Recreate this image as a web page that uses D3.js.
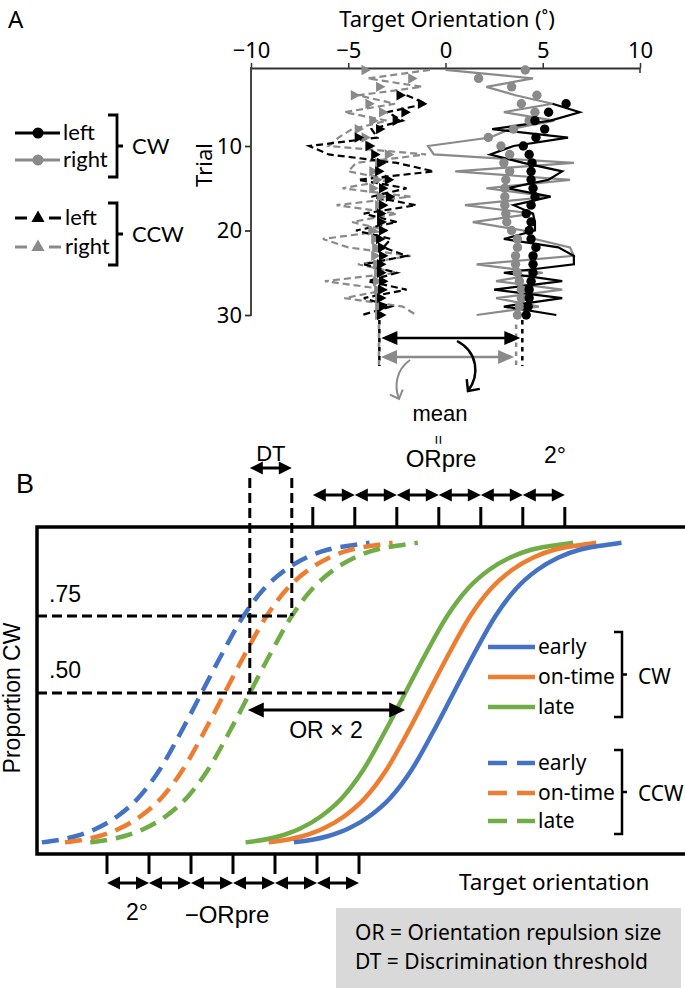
<!DOCTYPE html>
<html><head><meta charset="utf-8">
<script src="https://cdn.jsdelivr.net/npm/d3@7"></script>
<style>body{margin:0;background:#fff}svg{display:block}</style>
</head><body>
<svg id="c" width="685" height="988"></svg>
<script>
// ================= Panel A data =================
const trialsAll = d3.range(1, 31);
const xTicksA = [-10, -5, 0, 5, 10];
const yTicksA = [10, 20, 30];
// CW, right (gray solid line + gray dots), trials 1..30
const cwRightResp = [0.0, 4.5, 2.1, 3.6, 5.5, 3.0, 5.6, 3.3, 2.3, -0.9, -0.6, 6.6, 0.5, 6.4, 2.1, 5.4, 1.0, 4.5, 1.4, 4.0, 4.6, 6.4, 6.6, 1.6, 5.0, 2.6, 6.0, 2.6, 4.8, 1.6];
const cwRightMean = [4.1, 1.7, 3.4, 4.7, 3.9, 4.6, 4.3, 3.5, 2.2, 2.85, 3.3, 3.0, 3.3, 3.1, 3.05, 3.05, 3.05, 3.1, 3.15, 3.4, 3.7, 3.7, 3.6, 3.6, 3.7, 3.8, 3.9, 3.9, 3.8, 3.7];
// CW, left (black solid + black dots), trials 5..30
const cwLeftStart = 5;
const cwLeftResp = [5.5, 6.9, 5.4, 2.4, 6.3, 3.5, 2.3, 4.0, 6.0, 5.3, 3.2, 5.4, 3.5, 4.5, 4.6, 4.6, 3.0, 5.8, 6.6, 6.6, 3.0, 6.0, 2.5, 6.0, 3.0, 5.7];
const cwLeftMean = [6.2, 5.3, 4.6, 5.1, 4.65, 4.0, 4.3, 4.45, 4.4, 4.4, 4.5, 4.6, 4.4, 4.15, 4.4, 4.3, 4.4, 4.65, 4.5, 4.5, 4.5, 4.4, 4.3, 4.3, 4.25, 4.15];
// CCW, right (gray dashed + gray triangles), trials 1..30
const ccwRightResp = [-0.8, -4.0, -1.2, -4.5, -2.6, -5.2, -3.0, -4.8, -5.5, -6.0, -1.0, -4.6, -5.0, -2.8, -5.3, -1.8, -5.6, -2.5, -4.8, -3.0, -6.3, -5.0, -1.8, -4.5, -2.5, -6.2, -3.0, -5.2, -2.2, -1.5];
const ccwRightMean = [-4.1, -1.7, -3.35, -4.65, -3.9, -3.2, -3.7, -4.45, -4.1, -3.85, -2.9, -3.4, -3.7, -3.5, -3.7, -3.3, -3.4, -3.3, -3.25, -3.75, -3.6, -3.55, -3.6, -3.5, -3.45, -3.5, -3.45, -3.4, -3.4, -3.4];
// CCW, left (black dashed + black triangles), trials 4..30
const ccwLeftStart = 4;
const ccwLeftResp = [-2.0, -1.0, -3.0, -2.2, -3.8, -3.5, -7.0, -6.0, -2.5, -0.6, -4.5, -2.0, -3.8, -1.5, -4.2, -2.5, -4.6, -2.8, -3.2, -2.0, -4.2, -2.5, -4.0, -2.0, -4.2, -2.8, -4.3];
const ccwLeftMean = [-2.3, -1.2, -2.05, -2.5, -3.35, -4.45, -3.9, -3.6, -3.3, -3.4, -2.9, -3.2, -2.85, -3.2, -3.3, -3.3, -3.2, -3.35, -3.25, -3.2, -3.3, -3.3, -3.2, -3.25, -3.3, -3.2, -3.3];
// overall means (left, right) for CW and CCW
const meanCW = [3.95, 3.63];
const meanCCW = [-3.4, -3.42];

// ================= Panel B data =================
const conds = ["early", "on-time", "late"];
const condColors = ["#4472C4", "#ED7D31", "#70AD47"];
const ccwCenters = [4.5, 5.6, 6.8];     // deg at p = .50 (dashed)
const cwCenters = [16.5, 15.3, 14.2];   // deg at p = .50 (solid)
const shapeOffsets = [-7.6, -6, -5, -4, -3, -2, -1, 0, 1, 2, 3, 4, 5, 6, 7, 8];
const shapeP = [0.015, 0.035, 0.06, 0.10, 0.16, 0.25, 0.37, 0.5, 0.63, 0.75, 0.84, 0.90, 0.94, 0.965, 0.978, 0.988];
const bottomTicks = [0, 2, 4, 6, 8, 10, 12];
const topTicks = [9.8, 11.8, 13.8, 15.8, 17.8, 19.8, 21.8];
const pLevels = [0.75, 0.5];
const dtDeg = 2.0;

const svg = d3.select("#c");
const ARIAL = "'Liberation Sans', Arial, sans-serif";
const CAL = "'Noto Sans', sans-serif";
const LATO = "Lato, 'Noto Sans', sans-serif";
const GRAY = "#8a8a8a";

// ---------- helpers ----------
function head(g, tx, ty, ang, len, hw, color) {
  const bx = tx - Math.cos(ang) * len, by = ty - Math.sin(ang) * len;
  const px = -Math.sin(ang) * hw, py = Math.cos(ang) * hw;
  g.append("path").attr("d", `M${tx},${ty}L${bx + px},${by + py}L${bx - px},${by - py}Z`).attr("fill", color);
}
function dblArrow(g, x1, x2, y, len, hw, color, sw) {
  g.append("line").attr("x1", x1 + len * 0.7).attr("x2", x2 - len * 0.7).attr("y1", y).attr("y2", y)
    .attr("stroke", color).attr("stroke-width", sw);
  head(g, x1, y, Math.PI, len, hw, color);
  head(g, x2, y, 0, len, hw, color);
}
function chevron(g, tx, ty, ang, len, spread, color, sw) {
  const a1 = ang + Math.PI - spread, a2 = ang + Math.PI + spread;
  g.append("path").attr("d", `M${tx + Math.cos(a1) * len},${ty + Math.sin(a1) * len}L${tx},${ty}L${tx + Math.cos(a2) * len},${ty + Math.sin(a2) * len}`)
    .attr("fill", "none").attr("stroke", color).attr("stroke-width", sw).attr("stroke-linejoin", "miter");
}
function triRight(g, x, y, s, color) {
  g.append("path").attr("d", `M${x + s * 0.55},${y}L${x - s * 0.45},${y - s * 0.55}L${x - s * 0.45},${y + s * 0.55}Z`).attr("fill", color);
}
function triUp(g, x, y, s, color) {
  g.append("path").attr("d", `M${x},${y - s * 0.6}L${x - s * 0.6},${y + s * 0.45}L${x + s * 0.6},${y + s * 0.45}Z`).attr("fill", color);
}

// ================= Panel A =================
const gA = svg.append("g");
const xA = d3.scaleLinear().domain([-10, 10]).range([251, 640]);
const yA = d3.scaleLinear().domain([10, 30]).range([146, 315]);

gA.append("text").attr("x", 8).attr("y", 28).text("A").attr("font-family", CAL).attr("font-size", 24);
gA.append("text").attr("x", 447).attr("y", 27).attr("text-anchor", "middle").attr("font-family", CAL).attr("font-size", 22).text("Target Orientation (˚)");

const axT = gA.append("g").attr("transform", "translate(0,68)")
  .call(d3.axisTop(xA).tickValues(xTicksA).tickSizeInner(5).tickSizeOuter(0).tickPadding(5));
axT.select(".domain").attr("stroke", "#333").attr("stroke-width", 1.8);
axT.selectAll(".tick line").attr("stroke", "#333").attr("stroke-width", 1.5);
axT.selectAll(".tick text").attr("font-family", CAL).attr("font-size", 22).attr("fill", "#000");
gA.append("line").attr("x1", xA(10)).attr("x2", xA(10)).attr("y1", 68).attr("y2", 73).attr("stroke", "#333").attr("stroke-width", 1.5);

const axL = gA.append("g").attr("transform", `translate(${xA(-10)},0)`)
  .call(d3.axisLeft(yA).tickValues(yTicksA).tickSizeInner(6).tickSizeOuter(0).tickPadding(3));
axL.select(".domain").remove();
axL.selectAll(".tick line").attr("stroke", "#333").attr("stroke-width", 1.8);
axL.selectAll(".tick text").attr("font-family", CAL).attr("font-size", 22).attr("fill", "#000");
gA.append("line").attr("x1", xA(-10)).attr("x2", xA(-10)).attr("y1", 67.1).attr("y2", yA(30) + 1).attr("stroke", "#333").attr("stroke-width", 1.8);
gA.append("text").attr("transform", "translate(212,165) rotate(-90)").attr("text-anchor", "middle")
  .attr("font-family", CAL).attr("font-size", 22).text("Trial");

function series(vals, start) { return vals.map((v, i) => ({ t: start + i, v })); }
const lineA = d3.line().x(d => xA(d.v)).y(d => yA(d.t));
const sCWR = series(cwRightResp, 1), sCWL = series(cwLeftResp, cwLeftStart);
const sCCWR = series(ccwRightResp, 1), sCCWL = series(ccwLeftResp, ccwLeftStart);

gA.append("path").datum(sCWR).attr("d", lineA).attr("fill", "none").attr("stroke", GRAY).attr("stroke-width", 2.2);
gA.append("path").datum(sCCWR).attr("d", lineA).attr("fill", "none").attr("stroke", GRAY).attr("stroke-width", 2.2).attr("stroke-dasharray", "7,4");
gA.append("path").datum(sCWL).attr("d", lineA).attr("fill", "none").attr("stroke", "#000").attr("stroke-width", 2.2);
gA.append("path").datum(sCCWL).attr("d", lineA).attr("fill", "none").attr("stroke", "#000").attr("stroke-width", 2.2).attr("stroke-dasharray", "7,4");

series(cwRightMean, 1).forEach(d => gA.append("circle").attr("cx", xA(d.v)).attr("cy", yA(d.t)).attr("r", 4.7).attr("fill", GRAY));
series(ccwRightMean, 1).forEach(d => triRight(gA, xA(d.v), yA(d.t), 9.5, GRAY));
series(cwLeftMean, cwLeftStart).forEach(d => gA.append("circle").attr("cx", xA(d.v)).attr("cy", yA(d.t)).attr("r", 4.7).attr("fill", "#000"));
series(ccwLeftMean, ccwLeftStart).forEach(d => triRight(gA, xA(d.v), yA(d.t), 9.5, "#000"));

// legend A
const legA = svg.append("g");
[[133, "#000", "left"], [160, GRAY, "right"]].forEach(([y, c, t]) => {
  legA.append("line").attr("x1", 15).attr("x2", 60).attr("y1", y).attr("y2", y).attr("stroke", c).attr("stroke-width", 3);
  legA.append("circle").attr("cx", 38).attr("cy", y).attr("r", 5.5).attr("fill", c);
  legA.append("text").attr("x", 63).attr("y", y + 7).attr("font-family", LATO).attr("font-size", 22).text(t);
});
[[218, "#000", "left"], [247, GRAY, "right"]].forEach(([y, c, t]) => {
  legA.append("line").attr("x1", 15).attr("x2", 27).attr("y1", y).attr("y2", y).attr("stroke", c).attr("stroke-width", 3);
  legA.append("line").attr("x1", 49).attr("x2", 61).attr("y1", y).attr("y2", y).attr("stroke", c).attr("stroke-width", 3);
  triUp(legA, 38, y - 1, 11, c);
  legA.append("text").attr("x", 65).attr("y", y + 7).attr("font-family", LATO).attr("font-size", 22).text(t);
});
function bracket(g, x, y1, y2, serif, tick, sw) {
  const ym = (y1 + y2) / 2;
  g.append("path").attr("d", `M${x - serif},${y1}H${x}V${y2}H${x - serif}M${x},${ym}H${x + tick}`)
    .attr("fill", "none").attr("stroke", "#000").attr("stroke-width", sw);
}
bracket(legA, 117, 115, 177, 9, 6, 2.8);
bracket(legA, 117, 203, 265, 9, 6, 2.8);
legA.append("text").attr("x", 132).attr("y", 154).attr("font-family", LATO).attr("font-size", 22).text("CW");
legA.append("text").attr("x", 132).attr("y", 242).attr("font-family", LATO).attr("font-size", 22).text("CCW");

// mean arrows below A
const gM = svg.append("g");
[[meanCCW[0], "#000", 0], [meanCCW[1], GRAY, 4.5], [meanCW[0], "#000", 0], [meanCW[1], GRAY, 4.5]].forEach(([v, c, off]) => {
  gM.append("line").attr("x1", xA(v)).attr("x2", xA(v)).attr("y1", 320).attr("y2", 366)
    .attr("stroke", c).attr("stroke-width", 2.5).attr("stroke-dasharray", "4.5,4.5").attr("stroke-dashoffset", off);
});
dblArrow(gM, xA(meanCCW[0]) + 2, xA(meanCW[0]) - 2, 338, 16, 7, "#000", 2.5);
dblArrow(gM, xA(meanCCW[1]) + 2, xA(meanCW[1]) - 2, 357, 16, 7, GRAY, 2.5);
gM.append("path").attr("d", "M457,341 C478,352 480,375 468,391").attr("fill", "none").attr("stroke", "#000").attr("stroke-width", 2.5);
chevron(gM, 468, 391, Math.atan2(391 - 375, 468 - 480), 12, 0.75, "#000", 2.5);
gM.append("path").attr("d", "M410,360 C396,370 394,386 399,399").attr("fill", "none").attr("stroke", GRAY).attr("stroke-width", 2);
chevron(gM, 399, 399, Math.atan2(399 - 386, 399 - 394), 10, 0.75, GRAY, 2);

svg.append("text").attr("x", 440).attr("y", 421).attr("text-anchor", "middle").attr("font-family", ARIAL).attr("font-size", 22).text("mean");
svg.append("text").attr("transform", "translate(433,440) rotate(90)").attr("text-anchor", "middle").attr("font-family", ARIAL).attr("font-size", 16).text("=");
svg.append("text").attr("x", 441).attr("y", 467).attr("text-anchor", "middle").attr("font-family", ARIAL).attr("font-size", 24).text("ORpre");

// ================= Panel B =================
const gB = svg.append("g");
const xB = d3.scaleLinear().domain([0, 12]).range([107, 359]);
const yB = d3.scaleLinear().domain([0, 1]).range([847, 539]);
const boxL = 37, boxT = 527, boxB = 854, boxR = 685;

gB.append("text").attr("x", 16).attr("y", 493).attr("font-family", ARIAL).attr("font-size", 27).text("B");

const lineB = d3.line().x(d => xB(d[0])).y(d => yB(d[1])).curve(d3.curveMonotoneX);
ccwCenters.forEach((c, i) => {
  const pts = shapeOffsets.map((o, k) => [c + o, shapeP[k]]);
  gB.append("path").datum(pts).attr("d", lineB).attr("fill", "none").attr("stroke", condColors[i])
    .attr("stroke-width", 4.5).attr("stroke-dasharray", "17,9");
});
[2, 1, 0].forEach(i => {
  const c = cwCenters[i];
  const pts = shapeOffsets.map((o, k) => [c + o, shapeP[k]]);
  gB.append("path").datum(pts).attr("d", lineB).attr("fill", "none").attr("stroke", condColors[i]).attr("stroke-width", 4.5);
});

gB.append("path").attr("d", `M${boxR},${boxT}H${boxL}V${boxB}H${boxR}`).attr("fill", "none").attr("stroke", "#000").attr("stroke-width", 3.5);

const lateCCW = ccwCenters[2], lateCW = cwCenters[2];
function dline(x1, y1, x2, y2) {
  gB.append("line").attr("x1", x1).attr("y1", y1).attr("x2", x2).attr("y2", y2)
    .attr("stroke", "#000").attr("stroke-width", 3).attr("stroke-dasharray", "10,5");
}
dline(boxL, yB(pLevels[0]), xB(lateCCW + dtDeg), yB(pLevels[0]));
dline(boxL, yB(pLevels[1]), xB(lateCW), yB(pLevels[1]));
dline(xB(lateCCW), 478, xB(lateCCW), yB(pLevels[1]));
dline(xB(lateCCW + dtDeg), 478, xB(lateCCW + dtDeg), yB(pLevels[0]));
gB.append("text").attr("x", 49).attr("y", 602).attr("font-family", ARIAL).attr("font-size", 23).text(".75");
gB.append("text").attr("x", 49).attr("y", 678).attr("font-family", ARIAL).attr("font-size", 23).text(".50");

dblArrow(gB, xB(lateCCW), xB(lateCCW + dtDeg), 468, 13, 6.5, "#000", 3);
gB.append("text").attr("x", xB(lateCCW + dtDeg / 2)).attr("y", 461).attr("text-anchor", "middle").attr("font-family", ARIAL).attr("font-size", 22).text("DT");

dblArrow(gB, xB(lateCCW) - 2, xB(lateCW), 710, 16, 7.5, "#000", 3);
gB.append("text").attr("x", 326).attr("y", 738).attr("text-anchor", "middle").attr("font-family", ARIAL).attr("font-size", 23).text("OR × 2");

topTicks.forEach(t => gB.append("line").attr("x1", xB(t)).attr("x2", xB(t)).attr("y1", 507).attr("y2", boxT).attr("stroke", "#000").attr("stroke-width", 3));
for (let i = 0; i < topTicks.length - 1; i++) dblArrow(gB, xB(topTicks[i]), xB(topTicks[i + 1]), 495, 13, 6.5, "#000", 3);
gB.append("text").attr("x", 555).attr("y", 463).attr("text-anchor", "middle").attr("font-family", ARIAL).attr("font-size", 23).text("2°");

bottomTicks.forEach(t => gB.append("line").attr("x1", xB(t)).attr("x2", xB(t)).attr("y1", boxB).attr("y2", 874).attr("stroke", "#000").attr("stroke-width", 3));
for (let i = 0; i < bottomTicks.length - 1; i++) dblArrow(gB, xB(bottomTicks[i]), xB(bottomTicks[i + 1]), 883, 13, 6.5, "#000", 3);
gB.append("text").attr("x", 137).attr("y", 920).attr("text-anchor", "middle").attr("font-family", ARIAL).attr("font-size", 23).text("2°");
gB.append("text").attr("x", 227).attr("y", 923).attr("text-anchor", "middle").attr("font-family", ARIAL).attr("font-size", 24).text("−ORpre");

gB.append("text").attr("transform", "translate(20,698) rotate(-90)").attr("text-anchor", "middle").attr("font-family", ARIAL).attr("font-size", 23).text("Proportion CW");
gB.append("text").attr("x", 459).attr("y", 890).attr("font-family", CAL).attr("font-size", 22.5).text("Target orientation");

const legB = svg.append("g");
const cwY = [647, 677, 707], ccwY = [763, 793, 821];
conds.forEach((n, i) => {
  legB.append("line").attr("x1", 488).attr("x2", 535).attr("y1", cwY[i]).attr("y2", cwY[i]).attr("stroke", condColors[i]).attr("stroke-width", 4.5);
  legB.append("text").attr("x", 538).attr("y", cwY[i] + 7).attr("font-family", CAL).attr("font-size", 21).text(n);
  legB.append("line").attr("x1", 488).attr("x2", 507).attr("y1", ccwY[i]).attr("y2", ccwY[i]).attr("stroke", condColors[i]).attr("stroke-width", 4.5);
  legB.append("line").attr("x1", 517).attr("x2", 535).attr("y1", ccwY[i]).attr("y2", ccwY[i]).attr("stroke", condColors[i]).attr("stroke-width", 4.5);
  legB.append("text").attr("x", 538).attr("y", ccwY[i] + 7).attr("font-family", CAL).attr("font-size", 21).text(n);
});
bracket(legB, 622, 632, 717, 8, 5, 2.5);
bracket(legB, 622, 750, 834, 8, 5, 2.5);
legB.append("text").attr("x", 638).attr("y", 684).attr("font-family", CAL).attr("font-size", 21).text("CW");
legB.append("text").attr("x", 638).attr("y", 801).attr("font-family", CAL).attr("font-size", 21).text("CCW");

const gD = svg.append("g");
gD.append("rect").attr("x", 336).attr("y", 908).attr("width", 345).attr("height", 80).attr("fill", "#d9d9d9");
gD.append("text").attr("x", 355).attr("y", 940).attr("font-family", CAL).attr("font-size", 21).text("OR = Orientation repulsion size");
gD.append("text").attr("x", 355).attr("y", 969).attr("font-family", CAL).attr("font-size", 21).text("DT = Discrimination threshold");
</script>
</body></html>
